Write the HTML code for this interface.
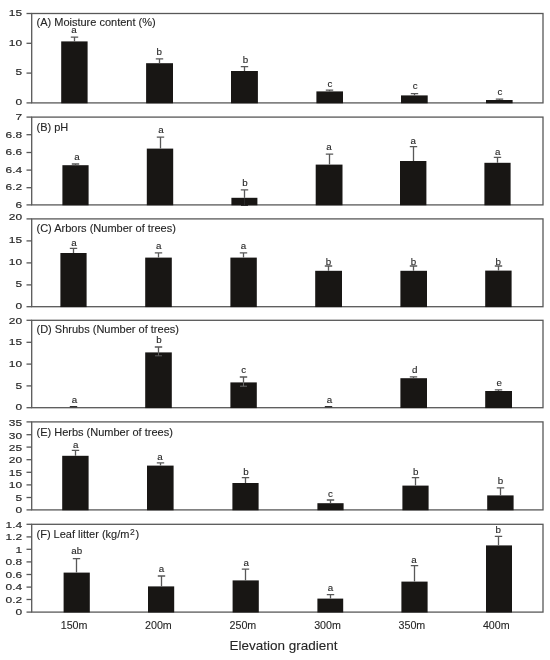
<!DOCTYPE html>
<html lang="en">
<head>
<meta charset="utf-8">
<title>Elevation gradient figure</title>
<style>
html,body{margin:0;padding:0;background:#fff;}
body{width:550px;height:660px;overflow:hidden;}
svg{display:block;}
text{font-family:"Liberation Sans",Arial,Helvetica,sans-serif;fill:#262626;}
.t{font-size:11px;stroke:#262626;stroke-width:0.12;}
.k{font-size:8.4px;text-anchor:end;stroke:#262626;stroke-width:0.14;}
.l{font-size:8.3px;text-anchor:middle;stroke:#262626;stroke-width:0.1;}
.x{font-size:10.7px;text-anchor:middle;stroke:#262626;stroke-width:0.1;}
.ax{font-size:13.5px;text-anchor:middle;stroke:#262626;stroke-width:0.1;}
.ln{stroke:#585858;stroke-width:1.3;fill:none;}
.b{fill:#181614;}
</style>
</head>
<body>
<svg width="550" height="660" viewBox="0 0 550 660">
<rect x="0" y="0" width="550" height="660" fill="#ffffff"/>
<g>
<rect class="ln" x="31.7" y="13.5" width="511.3" height="89.4"/>
<line class="ln" x1="26.5" y1="13.5" x2="31.7" y2="13.5"/><text class="k" transform="translate(22.1,15.7) scale(1.42,1)">15</text>
<line class="ln" x1="26.5" y1="43.3" x2="31.7" y2="43.3"/><text class="k" transform="translate(22.1,45.6) scale(1.42,1)">10</text>
<line class="ln" x1="26.5" y1="73.1" x2="31.7" y2="73.1"/><text class="k" transform="translate(22.1,75.4) scale(1.42,1)">5</text>
<line class="ln" x1="26.5" y1="102.9" x2="31.7" y2="102.9"/><text class="k" transform="translate(22.1,105.3) scale(1.42,1)">0</text>
<text class="t" x="36.5" y="25.8">(A) Moisture content (%)</text>
<rect class="b" x="61.2" y="41.4" width="26.4" height="61.9"/><path class="ln" d="M74.5 41.4V37.2M70.8 37.2H78.2"/><text class="l" transform="translate(74.0,33.4) scale(1.18,1)">a</text>
<rect class="b" x="146.1" y="63.2" width="26.9" height="40.1"/><path class="ln" d="M159.5 63.2V58.8M155.8 58.8H163.2"/><text class="l" transform="translate(159.3,55.2) scale(1.18,1)">b</text>
<rect class="b" x="231.0" y="71.0" width="26.9" height="32.3"/><path class="ln" d="M244.5 71.0V66.6M240.8 66.6H248.2"/><text class="l" transform="translate(245.5,63.4) scale(1.18,1)">b</text>
<rect class="b" x="316.4" y="91.4" width="26.6" height="11.9"/><path class="ln" d="M329.5 91.4V90.2M325.8 90.2H333.2"/><text class="l" transform="translate(330.0,86.8) scale(1.18,1)">c</text>
<rect class="b" x="401.0" y="95.4" width="26.7" height="7.9"/><path class="ln" d="M414.5 95.4V93.6M410.8 93.6H418.2"/><text class="l" transform="translate(415.2,89.0) scale(1.18,1)">c</text>
<rect class="b" x="486.0" y="100.0" width="26.6" height="3.3"/><path class="ln" d="M499.5 100.0V99.2M495.8 99.2H503.2"/><text class="l" transform="translate(500.0,95.1) scale(1.18,1)">c</text>
</g>
<g>
<rect class="ln" x="31.7" y="117.1" width="511.3" height="87.8"/>
<line class="ln" x1="26.5" y1="117.1" x2="31.7" y2="117.1"/><text class="k" transform="translate(22.1,120.0) scale(1.42,1)">7</text>
<line class="ln" x1="26.5" y1="134.7" x2="31.7" y2="134.7"/><text class="k" transform="translate(22.1,137.5) scale(1.42,1)">6.8</text>
<line class="ln" x1="26.5" y1="152.5" x2="31.7" y2="152.5"/><text class="k" transform="translate(22.1,155.3) scale(1.42,1)">6.6</text>
<line class="ln" x1="26.5" y1="170.1" x2="31.7" y2="170.1"/><text class="k" transform="translate(22.1,172.8) scale(1.42,1)">6.4</text>
<line class="ln" x1="26.5" y1="187.7" x2="31.7" y2="187.7"/><text class="k" transform="translate(22.1,190.4) scale(1.42,1)">6.2</text>
<line class="ln" x1="26.5" y1="204.9" x2="31.7" y2="204.9"/><text class="k" transform="translate(22.1,207.5) scale(1.42,1)">6</text>
<text class="t" x="36.5" y="130.9">(B) pH</text>
<rect class="b" x="62.4" y="165.2" width="26.2" height="40.1"/><path class="ln" d="M75.5 165.2V164.0M71.8 164.0H79.2"/><text class="l" transform="translate(77.0,160.0) scale(1.18,1)">a</text>
<rect class="b" x="146.8" y="148.6" width="26.4" height="56.7"/><path class="ln" d="M160.5 148.6V137.2M156.8 137.2H164.2"/><text class="l" transform="translate(161.0,133.2) scale(1.18,1)">a</text>
<rect class="b" x="231.4" y="197.8" width="26.0" height="7.5"/><path class="ln" d="M244.5 197.8V189.8M240.8 189.8H248.2"/><path d="M244.5 197.8V205.5M241.0 205.5H248.0" stroke="#2a2a2a" stroke-width="1" fill="none"/><text class="l" transform="translate(245.0,186.0) scale(1.18,1)">b</text>
<rect class="b" x="315.7" y="164.6" width="26.8" height="40.7"/><path class="ln" d="M329.5 164.6V154.2M325.8 154.2H333.2"/><text class="l" transform="translate(329.0,150.4) scale(1.18,1)">a</text>
<rect class="b" x="400.0" y="161.0" width="26.4" height="44.3"/><path class="ln" d="M413.5 161.0V146.6M409.8 146.6H417.2"/><text class="l" transform="translate(413.2,143.8) scale(1.18,1)">a</text>
<rect class="b" x="484.4" y="162.8" width="26.2" height="42.5"/><path class="ln" d="M497.5 162.8V157.4M493.8 157.4H501.2"/><text class="l" transform="translate(497.6,154.8) scale(1.18,1)">a</text>
</g>
<g>
<rect class="ln" x="31.7" y="218.9" width="511.3" height="87.8"/>
<line class="ln" x1="26.5" y1="218.9" x2="31.7" y2="218.9"/><text class="k" transform="translate(22.1,220.4) scale(1.42,1)">20</text>
<line class="ln" x1="26.5" y1="240.9" x2="31.7" y2="240.9"/><text class="k" transform="translate(22.1,242.6) scale(1.42,1)">15</text>
<line class="ln" x1="26.5" y1="262.9" x2="31.7" y2="262.9"/><text class="k" transform="translate(22.1,264.8) scale(1.42,1)">10</text>
<line class="ln" x1="26.5" y1="284.9" x2="31.7" y2="284.9"/><text class="k" transform="translate(22.1,287.1) scale(1.42,1)">5</text>
<line class="ln" x1="26.5" y1="306.7" x2="31.7" y2="306.7"/><text class="k" transform="translate(22.1,309.1) scale(1.42,1)">0</text>
<text class="t" x="36.5" y="231.9">(C) Arbors (Number of trees)</text>
<rect class="b" x="60.4" y="253.0" width="26.2" height="54.1"/><path class="ln" d="M73.5 253.0V248.4M69.8 248.4H77.2"/><text class="l" transform="translate(74.0,245.6) scale(1.18,1)">a</text>
<rect class="b" x="145.2" y="257.6" width="26.6" height="49.5"/><path class="ln" d="M158.5 257.6V252.8M154.8 252.8H162.2"/><text class="l" transform="translate(158.6,249.0) scale(1.18,1)">a</text>
<rect class="b" x="230.4" y="257.6" width="26.4" height="49.5"/><path class="ln" d="M243.5 257.6V252.8M239.8 252.8H247.2"/><text class="l" transform="translate(243.4,249.0) scale(1.18,1)">a</text>
<rect class="b" x="315.2" y="270.8" width="26.8" height="36.3"/><path class="ln" d="M328.5 270.8V266.0M324.8 266.0H332.2"/><text class="l" transform="translate(328.5,264.8) scale(1.18,1)">b</text>
<rect class="b" x="400.4" y="270.8" width="26.6" height="36.3"/><path class="ln" d="M413.5 270.8V266.0M409.8 266.0H417.2"/><text class="l" transform="translate(413.4,264.8) scale(1.18,1)">b</text>
<rect class="b" x="485.2" y="270.6" width="26.4" height="36.5"/><path class="ln" d="M498.5 270.6V266.0M494.8 266.0H502.2"/><text class="l" transform="translate(498.2,264.8) scale(1.18,1)">b</text>
</g>
<g>
<rect class="ln" x="31.7" y="320.3" width="511.3" height="87.4"/>
<line class="ln" x1="26.5" y1="320.3" x2="31.7" y2="320.3"/><text class="k" transform="translate(22.1,323.6) scale(1.42,1)">20</text>
<line class="ln" x1="26.5" y1="342.3" x2="31.7" y2="342.3"/><text class="k" transform="translate(22.1,345.4) scale(1.42,1)">15</text>
<line class="ln" x1="26.5" y1="364.1" x2="31.7" y2="364.1"/><text class="k" transform="translate(22.1,366.9) scale(1.42,1)">10</text>
<line class="ln" x1="26.5" y1="385.9" x2="31.7" y2="385.9"/><text class="k" transform="translate(22.1,388.5) scale(1.42,1)">5</text>
<line class="ln" x1="26.5" y1="407.7" x2="31.7" y2="407.7"/><text class="k" transform="translate(22.1,410.0) scale(1.42,1)">0</text>
<text class="t" x="36.5" y="333.3">(D) Shrubs (Number of trees)</text>
<path d="M69.8 406.7H77.2" stroke="#2a2a2a" stroke-width="1.3" fill="none"/><text class="l" transform="translate(74.4,402.8) scale(1.18,1)">a</text>
<rect class="b" x="145.2" y="352.4" width="26.6" height="55.7"/><path class="ln" d="M158.5 352.4V347.0M154.8 347.0H162.2"/><path d="M158.5 352.4V355.8M155.0 355.8H162.0" stroke="#5a5a5a" stroke-width="1" fill="none"/><text class="l" transform="translate(159.0,343.4) scale(1.18,1)">b</text>
<rect class="b" x="230.4" y="382.4" width="26.4" height="25.7"/><path class="ln" d="M243.5 382.4V377.0M239.8 377.0H247.2"/><path d="M243.5 382.4V386.2M240.0 386.2H247.0" stroke="#6a6a6a" stroke-width="1" fill="none"/><text class="l" transform="translate(243.6,373.0) scale(1.18,1)">c</text>
<path d="M324.8 406.7H332.2" stroke="#2a2a2a" stroke-width="1.3" fill="none"/><text class="l" transform="translate(329.4,402.8) scale(1.18,1)">a</text>
<rect class="b" x="400.4" y="378.2" width="26.6" height="29.9"/><path class="ln" d="M413.5 378.2V376.8M409.8 376.8H417.2"/><text class="l" transform="translate(414.6,373.4) scale(1.18,1)">d</text>
<rect class="b" x="485.2" y="391.0" width="26.8" height="17.1"/><path class="ln" d="M498.5 391.0V389.8M494.8 389.8H502.2"/><text class="l" transform="translate(499.2,386.0) scale(1.18,1)">e</text>
</g>
<g>
<rect class="ln" x="31.7" y="421.9" width="511.3" height="88.0"/>
<line class="ln" x1="26.5" y1="421.9" x2="31.7" y2="421.9"/><text class="k" transform="translate(22.1,425.8) scale(1.42,1)">35</text>
<line class="ln" x1="26.5" y1="434.7" x2="31.7" y2="434.7"/><text class="k" transform="translate(22.1,438.5) scale(1.42,1)">30</text>
<line class="ln" x1="26.5" y1="447.1" x2="31.7" y2="447.1"/><text class="k" transform="translate(22.1,450.8) scale(1.42,1)">25</text>
<line class="ln" x1="26.5" y1="459.7" x2="31.7" y2="459.7"/><text class="k" transform="translate(22.1,463.3) scale(1.42,1)">20</text>
<line class="ln" x1="26.5" y1="472.3" x2="31.7" y2="472.3"/><text class="k" transform="translate(22.1,475.8) scale(1.42,1)">15</text>
<line class="ln" x1="26.5" y1="484.9" x2="31.7" y2="484.9"/><text class="k" transform="translate(22.1,488.3) scale(1.42,1)">10</text>
<line class="ln" x1="26.5" y1="497.5" x2="31.7" y2="497.5"/><text class="k" transform="translate(22.1,500.8) scale(1.42,1)">5</text>
<line class="ln" x1="26.5" y1="509.9" x2="31.7" y2="509.9"/><text class="k" transform="translate(22.1,513.1) scale(1.42,1)">0</text>
<text class="t" x="36.5" y="436.3">(E) Herbs (Number of trees)</text>
<rect class="b" x="62.2" y="455.8" width="26.4" height="54.5"/><path class="ln" d="M75.5 455.8V450.4M71.8 450.4H79.2"/><text class="l" transform="translate(75.6,447.8) scale(1.18,1)">a</text>
<rect class="b" x="147.0" y="465.6" width="26.6" height="44.7"/><path class="ln" d="M160.5 465.6V462.8M156.8 462.8H164.2"/><text class="l" transform="translate(160.0,460.2) scale(1.18,1)">a</text>
<rect class="b" x="232.4" y="483.0" width="26.2" height="27.3"/><path class="ln" d="M245.5 483.0V477.6M241.8 477.6H249.2"/><text class="l" transform="translate(246.0,474.8) scale(1.18,1)">b</text>
<rect class="b" x="317.4" y="503.2" width="26.2" height="7.1"/><path class="ln" d="M330.5 503.2V500.0M326.8 500.0H334.2"/><text class="l" transform="translate(330.5,496.8) scale(1.18,1)">c</text>
<rect class="b" x="402.4" y="485.6" width="26.2" height="24.7"/><path class="ln" d="M415.5 485.6V477.6M411.8 477.6H419.2"/><text class="l" transform="translate(415.6,475.4) scale(1.18,1)">b</text>
<rect class="b" x="487.2" y="495.4" width="26.4" height="14.9"/><path class="ln" d="M500.5 495.4V487.9M496.8 487.9H504.2"/><text class="l" transform="translate(500.4,484.0) scale(1.18,1)">b</text>
</g>
<g>
<rect class="ln" x="31.7" y="524.3" width="511.3" height="87.8"/>
<line class="ln" x1="26.5" y1="524.3" x2="31.7" y2="524.3"/><text class="k" transform="translate(22.1,527.5) scale(1.42,1)">1.4</text>
<line class="ln" x1="26.5" y1="536.9" x2="31.7" y2="536.9"/><text class="k" transform="translate(22.1,540.1) scale(1.42,1)">1.2</text>
<line class="ln" x1="26.5" y1="549.3" x2="31.7" y2="549.3"/><text class="k" transform="translate(22.1,552.5) scale(1.42,1)">1</text>
<line class="ln" x1="26.5" y1="561.9" x2="31.7" y2="561.9"/><text class="k" transform="translate(22.1,565.1) scale(1.42,1)">0.8</text>
<line class="ln" x1="26.5" y1="574.5" x2="31.7" y2="574.5"/><text class="k" transform="translate(22.1,577.6) scale(1.42,1)">0.6</text>
<line class="ln" x1="26.5" y1="587.1" x2="31.7" y2="587.1"/><text class="k" transform="translate(22.1,590.2) scale(1.42,1)">0.4</text>
<line class="ln" x1="26.5" y1="599.5" x2="31.7" y2="599.5"/><text class="k" transform="translate(22.1,602.6) scale(1.42,1)">0.2</text>
<line class="ln" x1="26.5" y1="612.1" x2="31.7" y2="612.1"/><text class="k" transform="translate(22.1,615.2) scale(1.42,1)">0</text>
<text class="t" x="36.5" y="538.4">(F) Leaf litter (kg/m<tspan dx="0.5" dy="-3.3" style="font-size:8.6px">2</tspan><tspan dx="0.7" dy="3.3">)</tspan></text>
<rect class="b" x="63.6" y="572.6" width="26.2" height="39.9"/><path class="ln" d="M76.5 572.6V558.6M72.8 558.6H80.2"/><text class="l" transform="translate(76.8,554.4) scale(1.18,1)">ab</text>
<rect class="b" x="148.0" y="586.4" width="26.2" height="26.1"/><path class="ln" d="M161.5 586.4V576.0M157.8 576.0H165.2"/><text class="l" transform="translate(161.4,571.8) scale(1.18,1)">a</text>
<rect class="b" x="232.6" y="580.4" width="26.2" height="32.1"/><path class="ln" d="M245.5 580.4V569.2M241.8 569.2H249.2"/><text class="l" transform="translate(246.2,566.4) scale(1.18,1)">a</text>
<rect class="b" x="317.4" y="598.6" width="25.8" height="13.9"/><path class="ln" d="M330.5 598.6V594.6M326.8 594.6H334.2"/><text class="l" transform="translate(330.5,591.4) scale(1.18,1)">a</text>
<rect class="b" x="401.4" y="581.6" width="26.2" height="30.9"/><path class="ln" d="M414.5 581.6V565.6M410.8 565.6H418.2"/><text class="l" transform="translate(414.0,562.8) scale(1.18,1)">a</text>
<rect class="b" x="486.0" y="545.4" width="26.0" height="67.1"/><path class="ln" d="M498.5 545.4V536.4M494.8 536.4H502.2"/><text class="l" transform="translate(498.2,533.0) scale(1.18,1)">b</text>
</g>
<text class="x" x="74.1" y="628.9">150m</text>
<text class="x" x="158.4" y="628.9">200m</text>
<text class="x" x="242.9" y="628.9">250m</text>
<text class="x" x="327.5" y="628.9">300m</text>
<text class="x" x="411.9" y="628.9">350m</text>
<text class="x" x="496.3" y="628.9">400m</text>
<text class="ax" x="283.6" y="650.3">Elevation gradient</text>
</svg>
</body>
</html>
